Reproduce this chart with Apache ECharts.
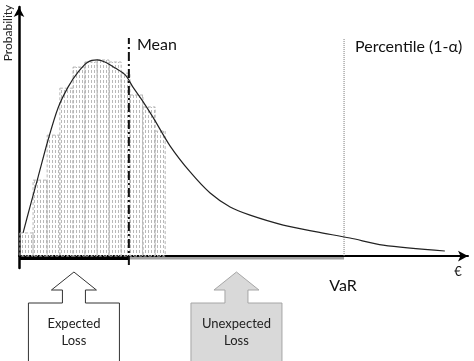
<!DOCTYPE html>
<html>
<head>
<meta charset="utf-8">
<style>
  html, body { margin: 0; padding: 0; background: #fff; }
  #chart { width: 474px; height: 361px; }
</style>
<script src="https://cdn.jsdelivr.net/npm/echarts@6/dist/echarts.min.js"></script>
</head>
<body>
<div id="chart"></div>
<script>
// ---- data (loss units on x, probability units on y) ----
const curveX = [0.9, 2.4, 4.2, 6.4, 8.6, 10.8, 13.0, 15.2, 17.2, 18.9, 21.2, 23.4, 25.1, 27.1, 29.5, 33.3, 37.7, 42.1, 46.5, 50.9, 58.2, 65.6, 72.9, 80.2, 93.8];
const curveY = [9.1, 19.3, 31.1, 45.7, 58.3, 66.5, 72.4, 76.4, 77.2, 76.4, 74.0, 71.3, 66.5, 61.4, 54.7, 43.3, 33.1, 24.8, 19.3, 16.1, 12.2, 9.5, 7.1, 4.3, 2.0];
const binEdges = [0.2, 3.1, 6.2, 9.0, 11.9, 14.5, 17.2, 19.8, 22.5, 24.45, 27.3, 30.0, 32.2];
const binHeights = [9.1, 29.9, 47.6, 66.1, 74.4, 76.4, 77.2, 76.4, 72.0, 63.4, 58.7, 49.2];
const meanLoss = 24.2;
const percentileLoss = 71.6;
const markerTop = 85.8;
const labels = { y: 'Probability', x: '€', mean: 'Mean', pct: 'Percentile (1-α)', varLabel: 'VaR', el: 'Expected\nLoss', ul: 'Unexpected\nLoss' };

const FONT = 'Lato, "Open Sans", sans-serif';

// texture for the histogram
const pc = document.createElement('canvas');
pc.width = 3; pc.height = 5;
const pctx = pc.getContext('2d');
pctx.fillStyle = '#b9b9b9';
pctx.fillRect(1, 0, 1, 3);
const pattern = { image: pc, repeat: 'repeat' };

const chart = echarts.init(document.getElementById('chart'), null, { renderer: 'canvas' });

const option = {
  animation: false,
  grid: { left: 19, right: 6, top: 7, bottom: 93 },
  xAxis: {
    type: 'value', min: 0, max: 98.9,
    axisLine: { show: true, onZero: true, symbol: ['none', 'arrow'], symbolSize: [8, 10], lineStyle: { color: '#000', width: 2 } },
    axisTick: { show: false }, axisLabel: { show: false }, splitLine: { show: false }
  },
  yAxis: {
    type: 'value', min: -4.7, max: 98.05,
    axisLine: { show: true, onZero: false, symbol: ['none', 'arrow'], symbolSize: [8, 10], lineStyle: { color: '#000', width: 2.5 } },
    axisTick: { show: false }, axisLabel: { show: false }, splitLine: { show: false }
  },
  series: [
    {
      type: 'custom', name: 'bins', z: 1,
      data: binHeights.map((h, i) => [binEdges[i], binEdges[i + 1], h]),
      renderItem: function (params, api) {
        const p0 = api.coord([api.value(0), api.value(2)]);
        const p1 = api.coord([api.value(1), 0]);
        return {
          type: 'rect',
          shape: { x: p0[0], y: p0[1], width: p1[0] - p0[0], height: p1[1] - p0[1] },
          style: { fill: pattern, stroke: '#b5b5b5', lineWidth: 1, lineDash: [3, 2] }
        };
      }
    },
    {
      type: 'custom', name: 'bands', z: 3,
      data: [[0, meanLoss, 0], [meanLoss, percentileLoss, 1]],
      renderItem: function (params, api) {
        const a = api.coord([api.value(0), 0]);
        const b = api.coord([api.value(1), 0]);
        const black = api.value(2) === 0;
        return {
          type: 'rect',
          shape: { x: a[0], y: a[1] + 1, width: b[0] - a[0], height: black ? 3 : 2.5 },
          style: { fill: black ? '#000' : '#a0a0a0' }
        };
      }
    },
    {
      type: 'custom', name: 'markers', z: 4,
      data: [[meanLoss, -3.5, markerTop, 0], [percentileLoss, 0, markerTop, 1]],
      renderItem: function (params, api) {
        const a = api.coord([api.value(0), api.value(1)]);
        const b = api.coord([api.value(0), api.value(2)]);
        const mean = api.value(3) === 0;
        return {
          type: 'line',
          shape: { x1: a[0], y1: a[1], x2: b[0], y2: b[1] },
          style: mean
            ? { stroke: '#111', lineWidth: 2, lineDash: [9, 3, 2, 3] }
            : { stroke: '#777', lineWidth: 1, lineDash: [1, 1] }
        };
      }
    },
    {
      type: 'line', name: 'density', z: 5,
      data: curveX.map((x, i) => [x, curveY[i]]),
      smooth: 0.3, showSymbol: false,
      lineStyle: { color: '#222', width: 1.2 }
    }
  ]
};
chart.setOption(option);

function arrowShape(cx, fill, stroke, text) {
  const pts = [[cx, 272], [cx + 22.5, 290], [cx + 11.5, 290], [cx + 11.5, 303], [cx + 45.5, 303], [cx + 45.5, 363],
               [cx - 45.5, 363], [cx - 45.5, 303], [cx - 11.5, 303], [cx - 11.5, 290], [cx - 22.5, 290]];
  return [
    { type: 'polygon', shape: { points: pts }, style: { fill: fill, stroke: stroke, lineWidth: 1 }, z: 10 },
    { type: 'text', x: cx, y: 332, z: 11, style: { text: text, fill: '#222', font: '13px ' + FONT, textAlign: 'center', textVerticalAlign: 'middle', lineHeight: 17 } }
  ];
}

const elX = chart.convertToPixel({ gridIndex: 0 }, [meanLoss / 2, 0])[0];
const ulX = chart.convertToPixel({ gridIndex: 0 }, [(meanLoss + percentileLoss) / 2, 0])[0];
const varX = chart.convertToPixel({ gridIndex: 0 }, [percentileLoss, 0])[0];

chart.setOption({
  graphic: [
    { type: 'text', x: 8, y: 33, rotation: Math.PI / 2, z: 10, style: { text: labels.y, fill: '#222', font: '12px ' + FONT, textAlign: 'center', textVerticalAlign: 'middle' } },
    { type: 'text', x: 137, y: 45, z: 10, style: { text: labels.mean, fill: '#111', font: '16px ' + FONT, textAlign: 'left', textVerticalAlign: 'middle' } },
    { type: 'text', x: 355, y: 47, z: 10, style: { text: labels.pct, fill: '#111', font: '16px ' + FONT, textAlign: 'left', textVerticalAlign: 'middle' } },
    { type: 'text', x: varX - 1, y: 286, z: 10, style: { text: labels.varLabel, fill: '#111', font: '16px ' + FONT, textAlign: 'center', textVerticalAlign: 'middle' } },
    { type: 'text', x: 458, y: 272, z: 10, style: { text: labels.x, fill: '#111', font: '13px ' + FONT, textAlign: 'center', textVerticalAlign: 'middle' } }
  ].concat(arrowShape(elX, '#ffffff', '#333', labels.el))
   .concat(arrowShape(ulX, '#d9d9d9', '#a6a6a6', labels.ul))
});
</script>
</body>
</html>
